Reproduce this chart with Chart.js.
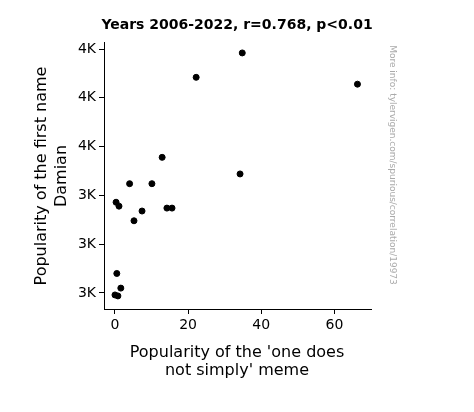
<!DOCTYPE html>
<html><head><meta charset="utf-8">
<script src="https://cdn.jsdelivr.net/npm/chart.js@4"></script>
<style>html,body{margin:0;padding:0;background:#fff}#w{width:474px;height:412px}</style>
</head><body><div id="w"><canvas id="c"></canvas></div>
<script>
const memeValues=[0,0.8,1.6,0.5,0.3,1.1,4,5.2,7.4,10.1,12.9,14.2,15.6,22.2,34.2,34.8,66.3];
const damianValues=[2740,2735,2775,2850,3215,3195,3310,3120,3170,3310,3445,3185,3185,3855,3360,3980,3820];
const xTicks=[0,20,40,60];
const yTicks=[2750,3000,3250,3500,3750,4000];
const F='"DejaVu Sans"';
const labels={
 id:'labels',
 afterDraw(ch){const c=ch.ctx;c.save();c.fillStyle='#000';c.textAlign='center';c.textBaseline='middle';
  c.font='bold 14px '+F;c.fillText('Years 2006-2022, r=0.768, p<0.01',237,25);
  c.font='16px '+F;c.fillText("Popularity of the 'one does",237,353);c.fillText("not simply' meme",237,371);
  c.save();c.translate(42,176);c.rotate(-Math.PI/2);c.fillText('Popularity of the first name',0,0);c.restore();
  c.save();c.translate(62,176);c.rotate(-Math.PI/2);c.fillText('Damian',0,0);c.restore();
  c.save();c.translate(392,165);c.rotate(Math.PI/2);c.fillStyle='#aaa';c.font='9px '+F;c.fillText('More info: tylervigen.com/spurious/correlation/19973',0,0);c.restore();
  c.restore();}
};
new Chart(document.getElementById('c'),{
 type:'scatter',
 data:{datasets:[{data:memeValues.map((x,i)=>({x,y:damianValues[i]})),backgroundColor:'#000',borderColor:'#000',pointRadius:3}]},
 options:{responsive:true,maintainAspectRatio:false,animation:false,
  layout:{padding:{left:0,right:103,top:42,bottom:0}},
  plugins:{legend:{display:false},tooltip:{enabled:false}},
  scales:{
   x:{min:-3,max:70,afterBuildTicks(a){a.ticks=xTicks.map(v=>({value:v}));},afterFit(a){a.height=103;},
    grid:{drawOnChartArea:false,color:'#000',tickLength:5},border:{color:'#000'},
    ticks:{color:'#000',font:{family:F,size:14}}},
   y:{min:2668,max:4036,afterBuildTicks(a){a.ticks=yTicks.map(v=>({value:v}));},afterFit(a){a.width=104;},
    grid:{drawOnChartArea:false,color:'#000',tickLength:5},border:{color:'#000'},
    ticks:{color:'#000',font:{family:F,size:14},callback:v=>Math.round(v/1000)+'K'}}
  }},
 plugins:[labels]
});
</script></body></html>
